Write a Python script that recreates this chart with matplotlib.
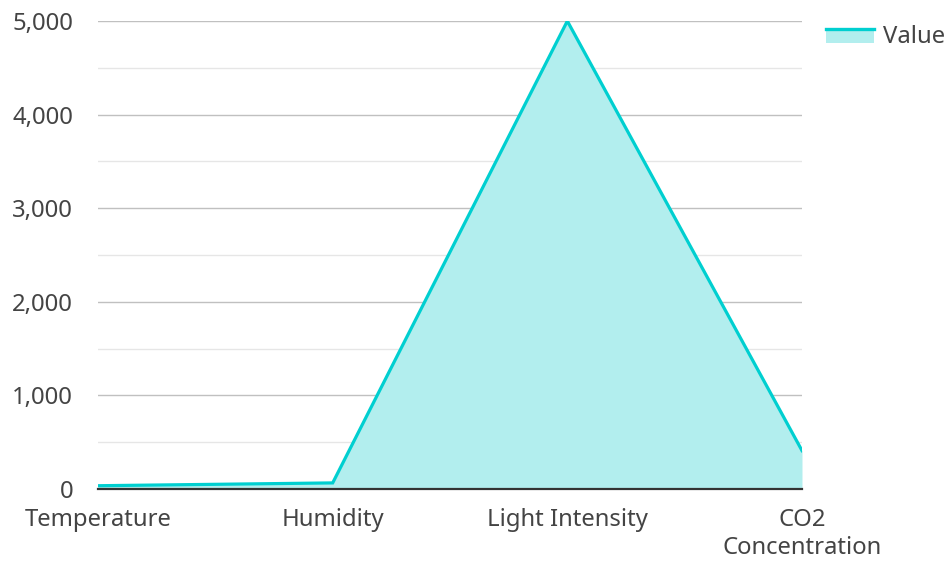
import matplotlib.pyplot as plt
from matplotlib.legend_handler import HandlerBase
from matplotlib.patches import Rectangle
from matplotlib.lines import Line2D
from matplotlib.ticker import MultipleLocator, FuncFormatter

plt.rcParams['font.family'] = ['Noto Sans', 'DejaVu Sans']

categories = ['Temperature', 'Humidity', 'Light Intensity', 'CO2\nConcentration']
values = [35, 65, 5000, 410]

line_color = '#00cfd0'
fill_color = '#b2eeee'
text_color = '#444444'


class AreaHandler(HandlerBase):
    # filled box with the line along its top edge, like the reference legend
    def create_artists(self, legend, orig_handle, xdescent, ydescent,
                       width, height, fontsize, trans):
        box = Rectangle((-xdescent, -ydescent), width, height * 0.8,
                        facecolor=fill_color, edgecolor='none', transform=trans)
        top = Line2D([-xdescent, -xdescent + width],
                     [-ydescent + height * 0.8] * 2,
                     color=line_color, linewidth=2.4, transform=trans)
        return [box, top]


fig = plt.figure(figsize=(9.5, 5.62), dpi=100)
ax = fig.add_axes([0.1032, 0.1299, 0.7410, 0.8327])

x = range(len(categories))
ax.fill_between(x, values, 0, color=fill_color, linewidth=0, zorder=2)
line, = ax.plot(x, values, color=line_color, linewidth=2.3, zorder=3,
                solid_joinstyle='miter', label='Value')

ax.set_xlim(0, len(categories) - 1)
ax.set_ylim(0, 5000)
ax.set_xticks(list(x))
ax.set_xticklabels(categories, fontsize=17.2, color=text_color, linespacing=1.25)
ax.yaxis.set_major_locator(MultipleLocator(1000))
ax.yaxis.set_minor_locator(MultipleLocator(500))
ax.yaxis.set_major_formatter(FuncFormatter(lambda v, p: f'{int(v):,}'))
ax.tick_params(axis='y', labelsize=17.2, labelcolor=text_color, length=0, pad=18, which='both')
ax.tick_params(axis='x', length=0, pad=13.5)

ax.grid(axis='y', which='major', color='#c0c0c0', linewidth=1, zorder=1)
ax.grid(axis='y', which='minor', color='#e6e6e6', linewidth=1, zorder=1)
ax.set_axisbelow(True)

for side in ['left', 'right', 'top']:
    ax.spines[side].set_visible(False)
ax.spines['bottom'].set_color('#333333')
ax.spines['bottom'].set_linewidth(1.6)
ax.spines['bottom'].set_zorder(4)

fig.legend([line], ['Value'], handler_map={line: AreaHandler()},
           loc='upper left', bbox_to_anchor=(0.862, 0.969), frameon=False,
           fontsize=17.2, labelcolor=text_color, handlelength=2.0,
           handletextpad=0.4, borderaxespad=0, borderpad=0.3)

fig.savefig('out.png', dpi=100)
